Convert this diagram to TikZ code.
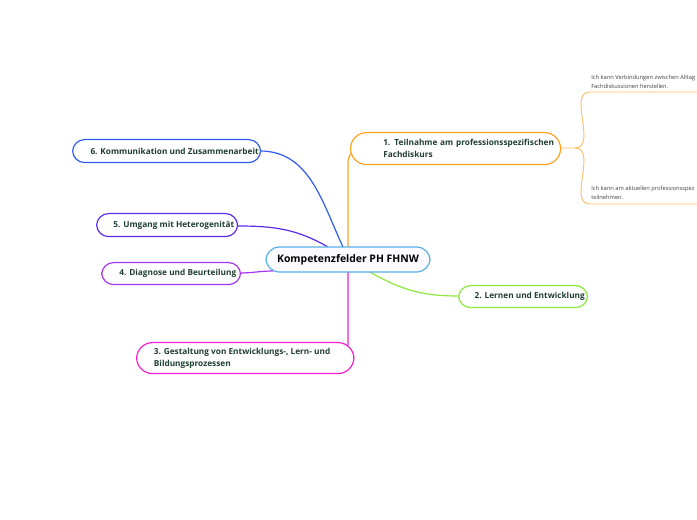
\documentclass[tikz,border=0pt]{standalone}
\usepackage{fontspec}
\setmainfont{Open Sans}
\definecolor{txt}{HTML}{1F3F2F}
\definecolor{cblue}{HTML}{5AAEE8}
\definecolor{corange}{HTML}{FFA21F}
\definecolor{cgreen}{HTML}{8AE83A}
\definecolor{cmag}{HTML}{F21FD6}
\definecolor{cpurp}{HTML}{A535F0}
\definecolor{cind}{HTML}{5A2BEA}
\definecolor{cbl}{HTML}{2F5CEE}
\begin{document}
\begin{tikzpicture}[x=0.75pt,y=-0.75pt,
  topic/.style={draw,line width=0.9pt,rounded corners=9pt,fill=white,text=txt,font=\bfseries\fontsize{6.2}{9}\selectfont,inner xsep=0pt,anchor=north west},
  conn/.style={line width=0.9pt},
  small/.style={font=\fontsize{4.3}{7}\selectfont,text=black!75,anchor=west,inner sep=0pt,align=left}]
\useasboundingbox (0,0) rectangle (697,520);
\clip (0,0) rectangle (697,520);
% connectors
\coordinate (c1) at (348,247);
\coordinate (c3) at (348,272);
\draw[conn,corange] (c1) -- (348,162) to[out=90,in=180] (362,148);
\draw[conn,cmag] (c3) -- (348,344) to[out=-90,in=0] (335,357);
\draw[conn,cbl] (343,247) to[out=115,in=0] (260,151);
\draw[conn,cind] (328,247) to[out=150,in=0] (237,226);
\draw[conn,cpurp] (273,271) to[out=180,in=0] (240,273);
\draw[conn,cgreen] (370,272) to[out=-30,in=180] (458,296);
\draw[conn,corange!70,line width=0.7pt] (560,148) -- (575,148) to[out=0,in=180] (590,92) -- (697,92);
\draw[conn,corange!70,line width=0.7pt] (575,148) to[out=0,in=180] (590,204) -- (697,204);
% nodes
\node[topic,draw=cblue,fill=blue!2,minimum width=164*0.75pt,minimum height=25*0.75pt,font=\bfseries\fontsize{7.8}{9}\selectfont,text=black,inner xsep=0pt,anchor=center,rounded corners=10pt] (root) at (348,259.5) {Kompetenzfelder PH FHNW};
\node[topic,draw=corange,minimum width=210*0.75pt,minimum height=32*0.75pt,text width=190*0.75pt,align=left,inner xsep=0pt,rounded corners=12pt] (t1) at (350,132) {\hspace*{17pt}\parbox[c]{170pt}{1. Teilnahme am professionsspezifischen\\Fachdiskurs}};
\node[topic,draw=cgreen,minimum width=129*0.75pt,minimum height=22*0.75pt] (t2) at (458,285) {\hspace{10pt}2. Lernen und Entwicklung\hfill};
\node[topic,draw=cmag,minimum width=212*0.75pt,minimum height=31*0.75pt,rounded corners=12pt] (t3) at (136,342) {\hspace*{13pt}\parbox[c]{145pt}{3. Gestaltung von Entwicklungs-, Lern- und\\Bildungsprozessen}\hspace*{5pt}};
\node[topic,draw=cpurp,minimum width=139*0.75pt,minimum height=22*0.75pt] (t4) at (101,262) {\hspace{10pt}4. Diagnose und Beurteilung\hfill};
\node[topic,draw=cind,minimum width=141*0.75pt,minimum height=23*0.75pt] (t5) at (96,213) {\hspace{10pt}5. Umgang mit Heterogenität\hfill};
\node[topic,draw=cbl,minimum width=188*0.75pt,minimum height=23*0.75pt] (t6) at (72,139) {\hspace{12pt}6. Kommunikation und Zusammenarbeit\hfill};
\node[small] (s1) at (591,82) {Ich kann Verbindungen zwischen Alltag\\Fachdiskussionen herstellen.};
\node[small] (s2) at (591,193) {Ich kann am aktuellen professionsspez\\teilnehmen.};
\end{tikzpicture}
\end{document}
